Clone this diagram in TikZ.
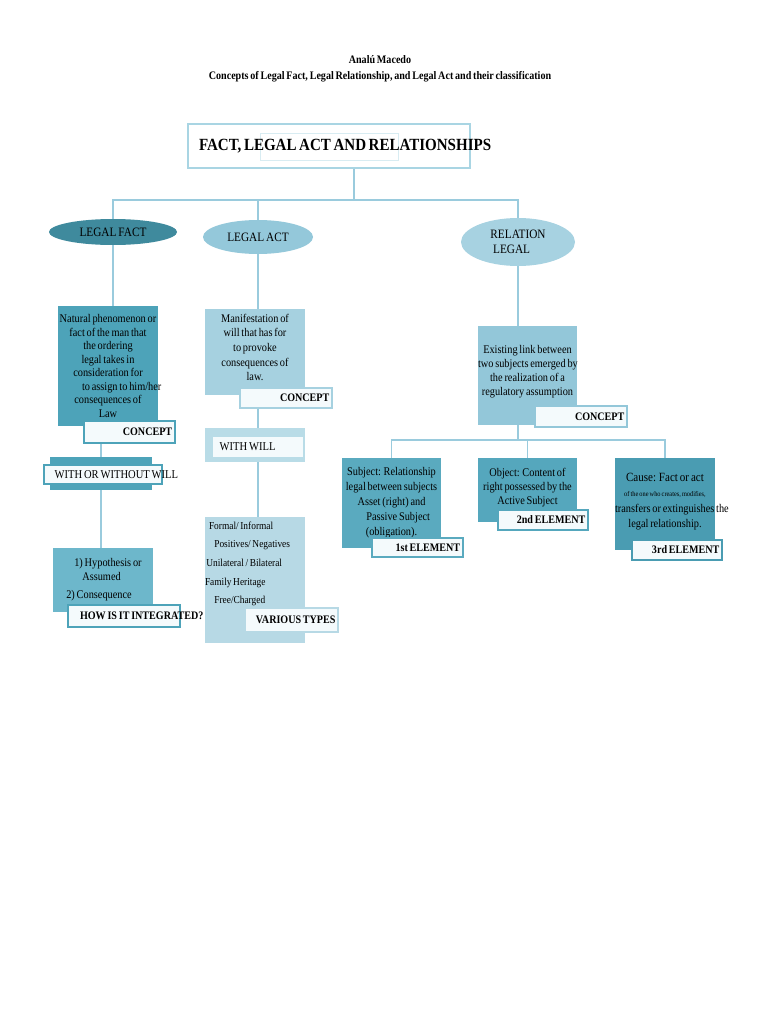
\documentclass[tikz,border=0pt]{standalone}
\usepackage{fontspec}
\setmainfont{Liberation Serif}[FakeStretch=0.88, WordSpace=0.7]
\usetikzlibrary{positioning,shapes.geometric}

\definecolor{linkblue}{HTML}{9ACBDD}
\definecolor{titleblue}{HTML}{A9D5E3}
\definecolor{factteal}{HTML}{3F8A9D}
\definecolor{actblue}{HTML}{94C8DA}
\definecolor{relblue}{HTML}{A7D2E1}
\definecolor{natteal}{HTML}{4DA3B9}
\definecolor{actpale}{HTML}{A6D1E0}
\definecolor{relpale}{HTML}{93C7D9}
\definecolor{hypblue}{HTML}{6DB7CB}
\definecolor{willblue}{HTML}{B9DCE7}
\definecolor{typesblue}{HTML}{B7D9E5}
\definecolor{elone}{HTML}{5AAABF}
\definecolor{eltwo}{HTML}{55A7BD}
\definecolor{elthree}{HTML}{4A9CB2}
\definecolor{tagwhite}{HTML}{F4FAFC}

\begin{document}
\begin{tikzpicture}[
    x=0.75pt, y=-0.75pt,
    every node/.style={font=\fontsize{8.8}{10.1}\selectfont, text=black},
    link/.style={draw=linkblue, line width=1.1pt},
    oval/.style={ellipse, inner sep=0pt, font=\fontsize{9.6}{11.5}\selectfont},
    card/.style={rectangle, inner xsep=0pt, inner ysep=1pt, align=flush center},
    tag/.style={draw, line width=1.2pt, fill=tagwhite, inner xsep=2pt, inner ysep=0pt, align=flush right, font=\fontsize{8.6}{10}\selectfont\bfseries},
    head/.style={font=\fontsize{8.6}{10}\selectfont\bfseries}
  ]
    \useasboundingbox (0,0) rectangle (768,1024);

    % heading
    \node[head] (author) at (380,60) {Analú Macedo};
    \node[head] (subtitle) at (380,77) {Concepts of Legal Fact, Legal Relationship, and Legal Act and their classification};

    % main box
    \draw[draw=titleblue!45, line width=0.6pt] (260,133) rectangle (398,160);
    \node[draw=titleblue, line width=1.2pt, minimum width=211.5pt, minimum height=33pt, text width=195pt, inner xsep=8pt, align=flush left, font=\fontsize{12.8}{15}\selectfont\bfseries] (title) at (329,146) {\mbox{FACT, LEGAL ACT AND RELATIONSHIPS}};

    % the three branches
    \node[oval, fill=factteal, minimum width=96pt, minimum height=19.5pt] (fact) at (113,232) {LEGAL FACT};
    \node[oval, fill=actblue, minimum width=82.5pt, minimum height=25.5pt] (act) at (258,237) {LEGAL ACT};
    \node[oval, fill=relblue, minimum width=85.5pt, minimum height=36pt, align=flush left] (rel) at (518,242) {RELATION\\\hspace*{2pt}LEGAL};

    % legal fact column
    \node[card, fill=natteal, minimum width=75pt, minimum height=90pt, text width=75pt] (nat) at (108,366) {Natural phenomenon or\\fact of the man that\\the ordering\\legal takes in\\consideration for\\\mbox{\hspace*{18pt}to assign to him/her}\\consequences of\\Law};
    \node[tag, draw=natteal, text width=64pt, minimum height=16.5pt] (natconcept) at (129.5,432) {CONCEPT};
    \node[fill=natteal, minimum width=76.5pt, minimum height=24.75pt, inner sep=0pt] (without) at (101,473.5) {};
    \node[draw=natteal, line width=1.2pt, fill=tagwhite, minimum width=88.5pt, minimum height=14.25pt, inner ysep=0pt, inner xsep=8pt, text width=72.5pt, align=flush left, font=\fontsize{9}{10}\selectfont] (withoutlbl) at (103,474.5) {\mbox{WITH OR WITHOUT WILL}};
    \node[card, fill=hypblue, minimum width=75pt, minimum height=48pt, text width=75pt, align=flush left] (hyp) at (103,580) {\hspace*{16pt}1) Hypothesis or\\\hspace*{22pt}Assumed\\[4pt]\hspace*{10pt}2) Consequence};
    \node[tag, draw=natteal, text width=66pt, inner xsep=9pt, align=flush left, minimum height=16.5pt] (howtag) at (124,616) {\mbox{HOW IS IT INTEGRATED?}};

    % legal act column
    \node[card, fill=actpale, minimum width=75pt, minimum height=64.5pt, text width=75pt, font=\fontsize{8.8}{11}\selectfont] (actdef) at (255,352) {Manifestation of\\will that has for\\to provoke\\consequences of\\law.\\[-4pt]\mbox{}};
    \node[tag, draw=actpale, text width=65pt, minimum height=15pt] (actconcept) at (286,398) {CONCEPT};
    \node[fill=willblue, minimum width=75pt, minimum height=25.5pt, inner sep=0pt] (willbg) at (255,445) {};
    \node[fill=tagwhite, minimum height=15pt, inner ysep=0pt, inner xsep=5pt, text width=57.5pt, align=flush left, font=\fontsize{9}{10}\selectfont] (will) at (258,447) {WITH WILL};
    \node[card, fill=typesblue, minimum width=75pt, minimum height=94.5pt, text width=75pt, align=flush left, font=\fontsize{8}{13.9}\selectfont] (types) at (255,580) {\hspace*{3pt}Formal/ Informal\\\hspace*{7pt}Positives/ Negatives\\\hspace*{1pt}Unilateral / Bilateral\\Family Heritage\\\hspace*{7pt}Free/Charged\\[12pt]\mbox{}};
    \node[tag, draw=typesblue, text width=66pt, minimum height=18pt] (typestag) at (291.5,620) {\mbox{VARIOUS TYPES}};

    % relation column
    \node[card, fill=relpale, minimum width=74.25pt, minimum height=74.25pt, text width=74.25pt, font=\fontsize{8.8}{10.5}\selectfont] (reldef) at (527.5,375.5) {Existing link between\\\mbox{two subjects emerged by}\\the realization of a\\\mbox{regulatory assumption}\\[-3pt]\mbox{}};
    \node[tag, draw=relpale, text width=65pt, minimum height=15.75pt] (relconcept) at (581,416.5) {CONCEPT};

    \node[card, fill=elone, minimum width=74.25pt, minimum height=67.5pt, text width=74.25pt, font=\fontsize{8.8}{11.25}\selectfont] (el1) at (391.5,503) {Subject: Relationship\\\mbox{legal between subjects}\\Asset (right) and\\\hspace*{10pt}Passive Subject\\(obligation).};
    \node[tag, draw=elone, text width=64pt, minimum height=14.25pt] (tag1) at (417.5,547.5) {\mbox{1st ELEMENT}};
    \node[card, fill=eltwo, minimum width=74.25pt, minimum height=48pt, text width=74.25pt, font=\fontsize{8.8}{10.5}\selectfont] (el2) at (527.5,490) {Object: Content of\\\mbox{right possessed by the}\\Active Subject\\[-5pt]\mbox{}};
    \node[tag, draw=eltwo, text width=63.5pt, minimum height=15pt] (tag2) at (543,520) {\mbox{2nd ELEMENT}};
    \node[card, fill=elthree, minimum width=75pt, minimum height=69pt, text width=75pt, font=\fontsize{8.8}{11.5}\selectfont] (el3) at (665,504) {{\fontsize{9.4}{11}\selectfont Cause: Fact or act}\\{\fontsize{5.4}{7}\selectfont of the one who creates, modifies,}\\\mbox{transfers or extinguishes the}\\legal relationship.\\[-6pt]\mbox{}};
    \node[tag, draw=elthree, text width=63.5pt, minimum height=15pt] (tag3) at (677,550) {\mbox{3rd ELEMENT}};

    % connectors
    \coordinate (hub) at (354,200);
    \coordinate (split) at (518,440);
    \draw[link] (title.south -| hub) -- (hub);
    \draw[link] (hub) -| (fact.north);
    \draw[link] (hub) -| (act.north);
    \draw[link] (hub) -| (rel.north);

    \draw[link] (fact.south) -- (fact.south |- nat.north);
    \draw[link] (without.north |- natconcept.south) -- (without.north);
    \draw[link] (without.south) -- (without.south |- hyp.north);

    \draw[link] (act.south) -- (act.south |- actdef.north);
    \draw[link] (act.south |- actconcept.south) -- (act.south |- willbg.north);
    \draw[link] (act.south |- willbg.south) -- (act.south |- types.north);

    \draw[link] (rel.south) -- (rel.south |- reldef.north);
    \draw[link] (rel.south |- reldef.south) -- (split);
    \draw[link] (split) -| (el1.north);
    \draw[link] (split) -| (el2.north);
    \draw[link] (split) -| (el3.north);
  \end{tikzpicture}
\end{document}
